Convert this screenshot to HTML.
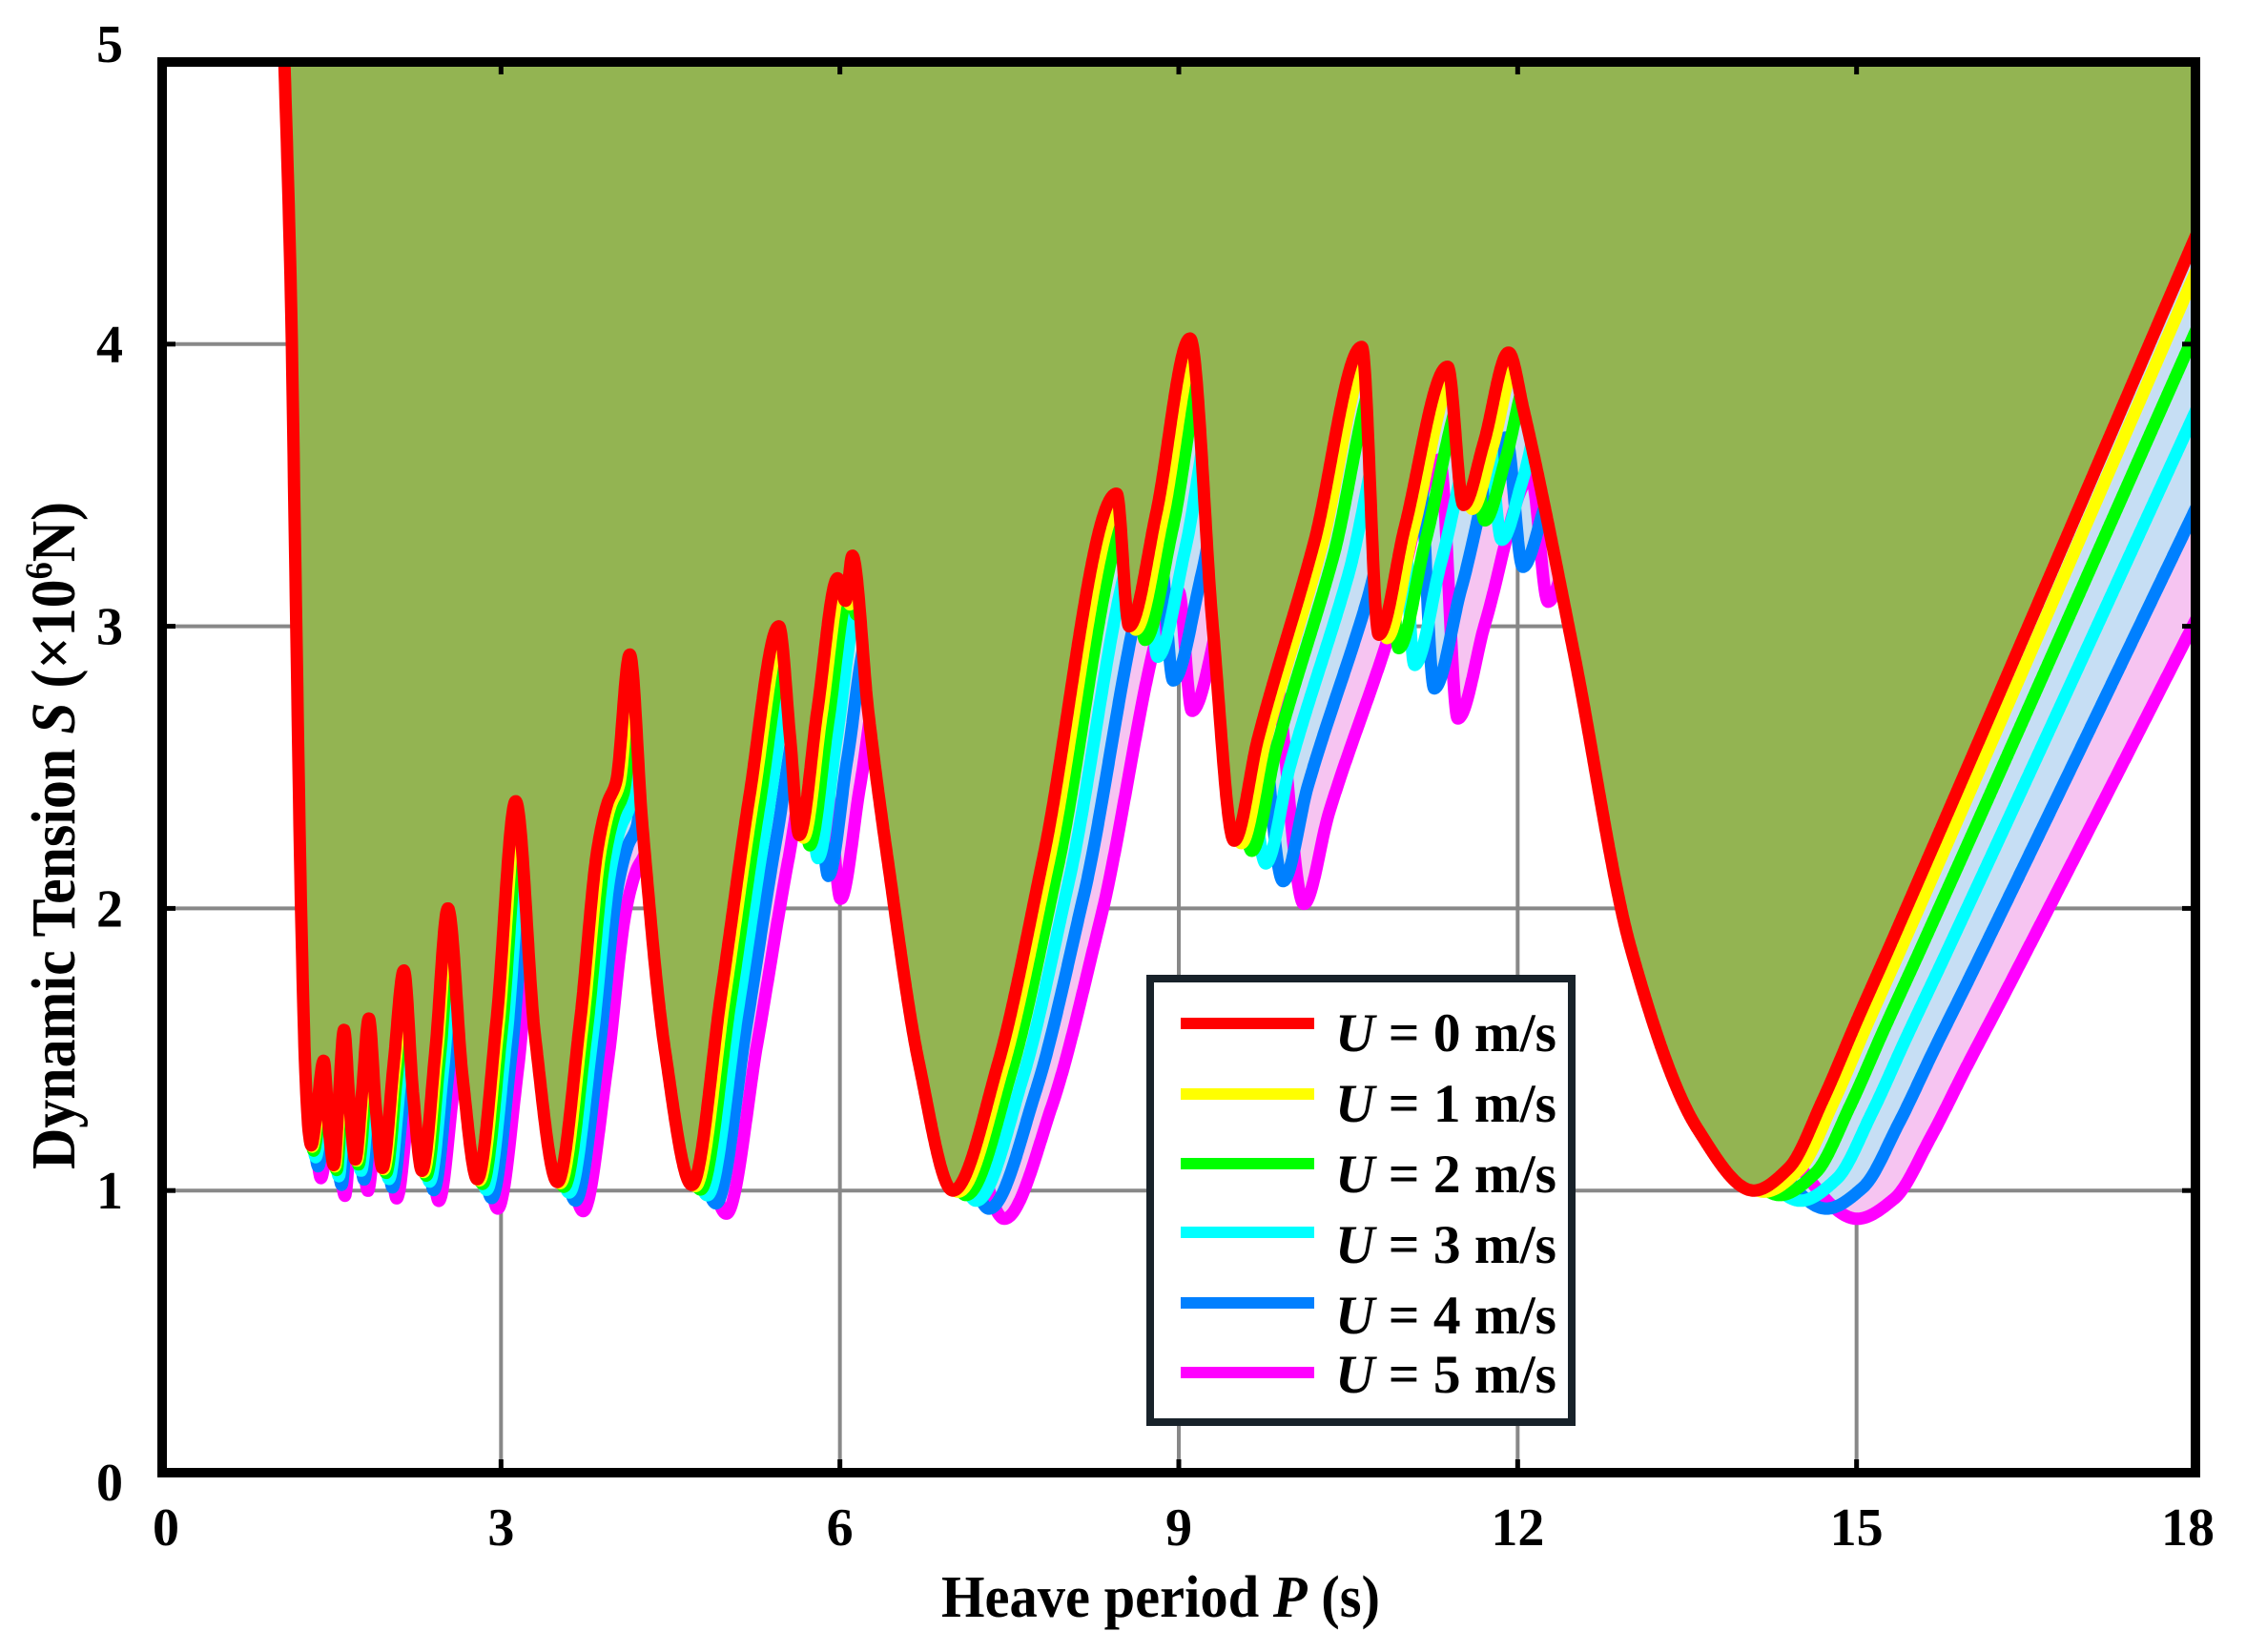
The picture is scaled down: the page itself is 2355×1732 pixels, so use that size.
<!DOCTYPE html>
<html><head><meta charset="utf-8">
<style>
html,body{margin:0;padding:0;background:#fff;}
svg{display:block;}
text{font-family:"Liberation Serif","Times New Roman",serif;font-weight:bold;fill:#000;}
</style></head>
<body>
<svg id="s" width="2355" height="1732" viewBox="0 0 2355 1732" xmlns="http://www.w3.org/2000/svg">
<defs>
<clipPath id="cp"><rect x="170" y="65" width="2132" height="1479"/></clipPath>
</defs>
<rect width="2355" height="1732" fill="#fff"/>
<g id="grid" stroke="#888" stroke-width="4"></g>
<g id="plot" clip-path="url(#cp)"></g>
<g id="ticks" stroke="#000" stroke-width="5"></g>
<rect x="170" y="65" width="2132" height="1479" fill="none" stroke="#000" stroke-width="10"/>
<g id="labels" font-size="56"></g>
<text x="1217" y="1695" font-size="62" text-anchor="middle" textLength="460" lengthAdjust="spacingAndGlyphs">Heave period <tspan font-style="italic">P</tspan> (s)</text>
<text transform="translate(78,876) rotate(-90)" font-size="66" text-anchor="middle" textLength="700" lengthAdjust="spacingAndGlyphs">Dynamic Tension <tspan font-style="italic">S</tspan> (×10<tspan font-size="40" dy="-24">6</tspan><tspan dy="24">N)</tspan></text>
<g id="legend">
<rect x="1206" y="1026" width="442" height="465" fill="#fff" stroke="#18222a" stroke-width="8"/>
</g>
</svg>
<script>
const X=p=>170+p*2132/18, Y=s=>1544-s*1479/5;
const NS="http://www.w3.org/2000/svg";
function el(t,a,parent,txt){const e=document.createElementNS(NS,t);for(const k in a)e.setAttribute(k,a[k]);if(txt!==undefined)e.innerHTML=txt;parent.appendChild(e);return e;}
const grid=document.getElementById('grid'),ticks=document.getElementById('ticks'),labels=document.getElementById('labels');
for(let p=3;p<18;p+=3){el('line',{x1:X(p),y1:65,x2:X(p),y2:1544},grid);el('line',{x1:X(p),y1:1544,x2:X(p),y2:1530},ticks);el('line',{x1:X(p),y1:65,x2:X(p),y2:78},ticks);}
for(let s=1;s<5;s++){el('line',{x1:170,y1:Y(s),x2:2302,y2:Y(s)},grid);el('line',{x1:170,y1:Y(s),x2:184,y2:Y(s)},ticks);el('line',{x1:2302,y1:Y(s),x2:2288,y2:Y(s)},ticks);}
for(let p=0;p<=18;p+=3){el('text',{x:X(p)+(p==18?-8:(p==0?4:0)),y:1620,'text-anchor':'middle'},labels,String(p));}
for(let s=0;s<=5;s++){let y=Y(s)+19; if(s==5)y=65; if(s==0)y=1573; el('text',{x:129,y:y,'text-anchor':'end'},labels,String(s));}
const K=[[1.0,6.2],[1.06,5.3],[1.14,4.17],[1.18,3.19],[1.23,2.0],[1.27,1.4],[1.30,1.2],[1.32,1.16],[1.36,1.25],[1.43,1.46],[1.48,1.2],[1.52,1.09],[1.56,1.3],[1.61,1.57],[1.66,1.3],[1.71,1.11],[1.77,1.35],[1.83,1.61],[1.89,1.3],[1.95,1.08],[2.05,1.45],[2.14,1.78],[2.22,1.35],[2.30,1.07],[2.42,1.5],[2.53,2.0],[2.66,1.4],[2.79,1.04],[2.96,1.6],[3.13,2.38],[3.3,1.55],[3.50,1.03],[3.7,1.6],[3.85,2.2],[3.94,2.37],[4.02,2.45],[4.14,2.9],[4.25,2.3],[4.45,1.5],[4.69,1.02],[4.95,1.7],[5.2,2.4],[5.46,3.0],[5.56,2.6],[5.64,2.26],[5.8,2.7],[5.98,3.17],[6.05,3.09],[6.11,3.25],[6.25,2.7],[6.42,2.18],[6.7,1.45],[7.0,1.0],[7.4,1.45],[7.8,2.18],[8.45,3.47],[8.56,3.0],[8.8,3.4],[9.10,4.02],[9.3,3.0],[9.49,2.24],[9.7,2.6],[10.2,3.3],[10.62,3.99],[10.77,2.97],[11.0,3.35],[11.38,3.92],[11.52,3.43],[11.7,3.65],[11.92,3.97],[12.05,3.77],[12.5,2.9],[13.0,1.86],[13.59,1.22],[14.09,1.0],[14.4,1.08],[14.7,1.32],[15.0,1.6],[15.32,1.89],[18,4.38],[19.6,5.87]];
const n=K.length,xs=K.map(k=>k[0]),ys=K.map(k=>k[1]);
const d=[],m=[];
for(let i=0;i<n-1;i++)d.push((ys[i+1]-ys[i])/(xs[i+1]-xs[i]));
m[0]=d[0];m[n-1]=d[n-2];
for(let i=1;i<n-1;i++){if(d[i-1]*d[i]<=0)m[i]=0;else{m[i]=2/(1/d[i-1]+1/d[i]);}}
function f(x){let i=0;while(i<n-2&&x>xs[i+1])i++;const h=xs[i+1]-xs[i],t=(x-xs[i])/h;const t2=t*t,t3=t2*t;
return (2*t3-3*t2+1)*ys[i]+(t3-2*t2+t)*h*m[i]+(-2*t3+3*t2)*ys[i+1]+(t3-t2)*h*m[i+1];}
const pts=[];for(let x=1.0;x<=19.6;x+=0.004)pts.push([x,f(x)]);
function curve(U){const s=1+0.005*U+0.0016*U*U,g=1-0.004*U*U;return pts.map(p=>[X(p[0]*s),Y(p[1]*g)]);}
function pathOf(c){return 'M'+c.map(p=>p[0].toFixed(1)+','+p[1].toFixed(1)).join('L');}
const plot=document.getElementById('plot');
function fillAbove(U,col){const c=curve(U);const d=pathOf(c)+'L'+c[c.length-1][0].toFixed(1)+',0L'+c[0][0].toFixed(1)+',0Z';el('path',{d:d,fill:col},plot);}
const cols=['#ff0000','#ffff00','#00ff00','#00ffff','#0080ff','#ff00ff'];
function line(U){el('path',{d:pathOf(curve(U)),stroke:cols[U],fill:'none','stroke-width':13,'stroke-linejoin':'round','stroke-linecap':'round'},plot);}
fillAbove(5,'#f6c4f1');fillAbove(4,'#c6def4');
for(let U=5;U>=1;U--)line(U);
fillAbove(0,'#93b452');
line(0);
const lg=document.getElementById('legend');
const ly=[1073,1147,1220,1292,1366,1439],ty=[1102,1176,1250,1324,1398,1460];
for(let U=0;U<6;U++){el('rect',{x:1238,y:ly[U]-6,width:140,height:12,fill:cols[U]},lg);
el('text',{x:1400,y:ty[U],'font-size':57,textLength:232,lengthAdjust:'spacingAndGlyphs'},lg,'<tspan font-style="italic">U</tspan> = '+U+' m/s');}
</script>
</body></html>
